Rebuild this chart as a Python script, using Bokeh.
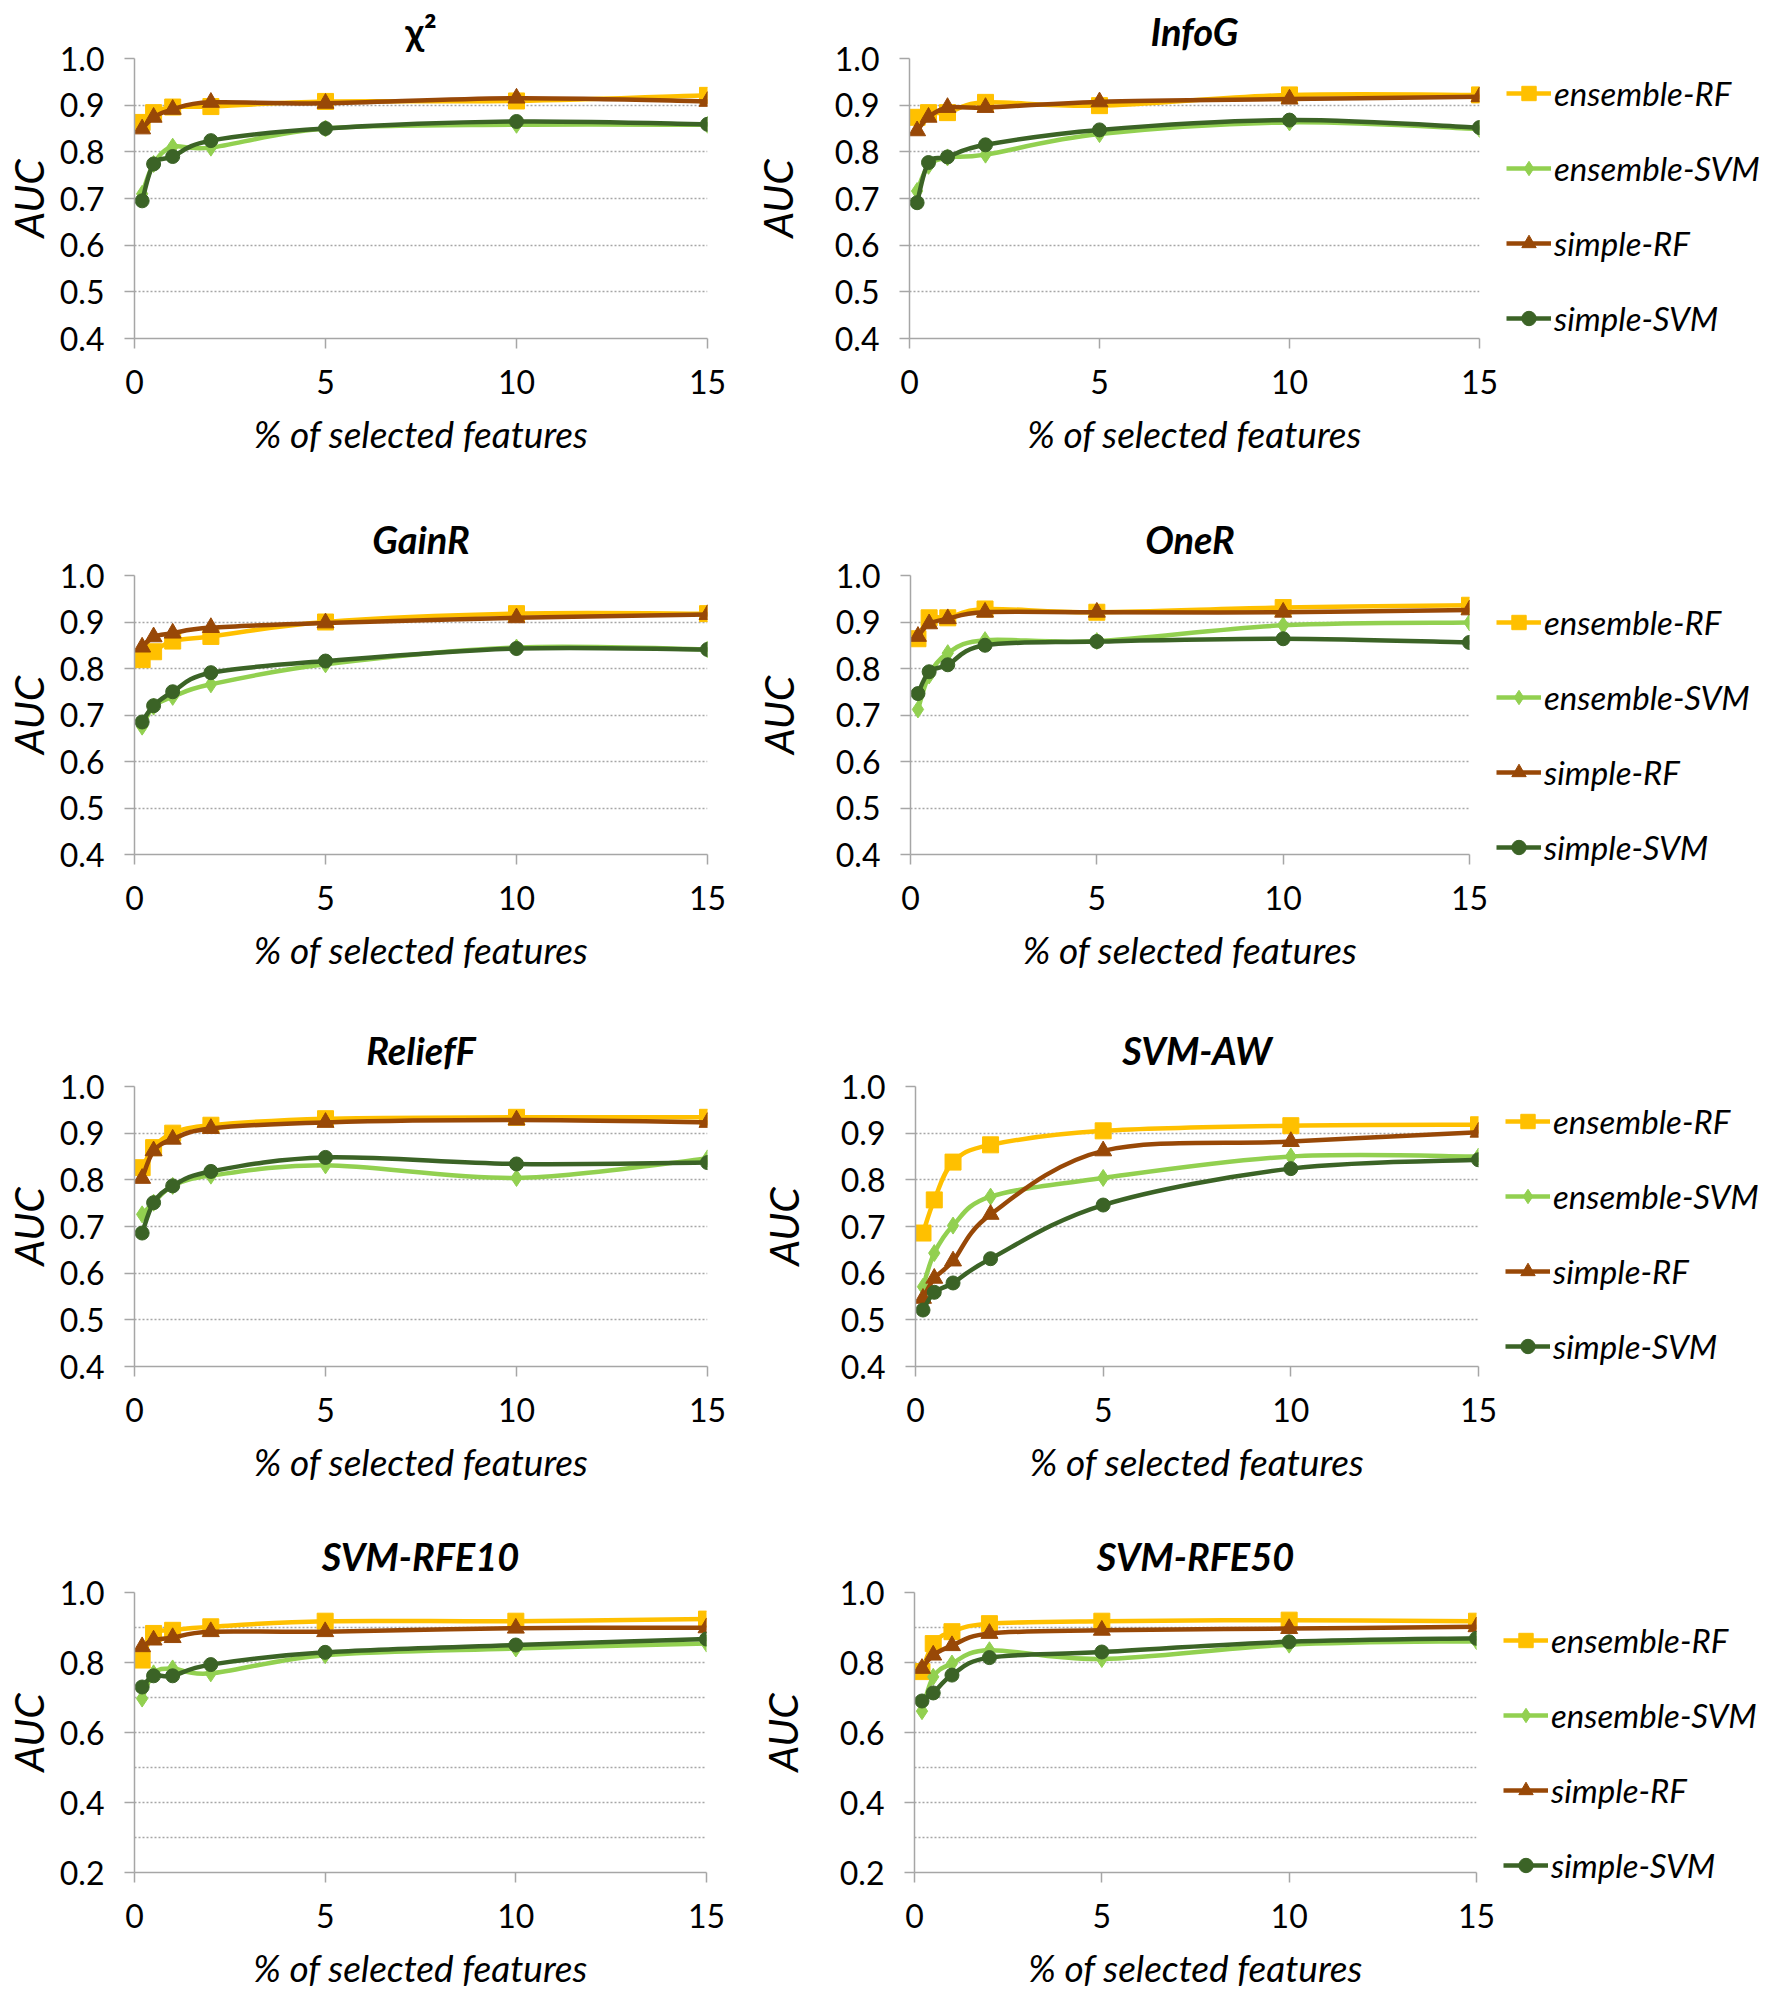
from bokeh.plotting import figure
from bokeh.models import ColumnDataSource, FixedTicker, NumeralTickFormatter, Legend, LegendItem
from bokeh.layouts import column, row
from bokeh.embed import file_html
from bokeh.resources import INLINE

# ---------------- data ----------------
x_pct = [0.2, 0.5, 1, 2, 5, 10, 15]
series_names = ["ensemble-RF", "ensemble-SVM", "simple-RF", "simple-SVM"]
x_ticks = [0, 5, 10, 15]
y_ticks_a = [0.4, 0.5, 0.6, 0.7, 0.8, 0.9, 1.0]
y_ticks_b = [0.2, 0.4, 0.6, 0.8, 1.0]
y_grid_b = [0.2, 0.3, 0.4, 0.5, 0.6, 0.7, 0.8, 0.9, 1.0]

chi2_eRF = [0.863, 0.884, 0.896, 0.897, 0.908, 0.909, 0.921]
chi2_eSVM = [0.710, 0.774, 0.811, 0.809, 0.850, 0.858, 0.858]
chi2_sRF = [0.849, 0.874, 0.891, 0.906, 0.904, 0.915, 0.908]
chi2_sSVM = [0.695, 0.774, 0.790, 0.824, 0.850, 0.865, 0.859]

infog_eRF = [0.874, 0.884, 0.884, 0.906, 0.899, 0.922, 0.922]
infog_eSVM = [0.716, 0.770, 0.788, 0.794, 0.838, 0.863, 0.849]
infog_sRF = [0.845, 0.874, 0.895, 0.895, 0.907, 0.913, 0.918]
infog_sSVM = [0.691, 0.777, 0.789, 0.815, 0.847, 0.868, 0.852]

gainr_eRF = [0.819, 0.836, 0.859, 0.869, 0.900, 0.918, 0.918]
gainr_eSVM = [0.675, 0.718, 0.739, 0.766, 0.809, 0.845, 0.841]
gainr_sRF = [0.846, 0.868, 0.876, 0.888, 0.898, 0.909, 0.916]
gainr_sSVM = [0.685, 0.720, 0.750, 0.791, 0.816, 0.843, 0.841]

oner_eRF = [0.864, 0.909, 0.909, 0.928, 0.921, 0.931, 0.936]
oner_eSVM = [0.712, 0.785, 0.833, 0.861, 0.859, 0.893, 0.899]
oner_sRF = [0.869, 0.896, 0.907, 0.921, 0.921, 0.921, 0.926]
oner_sSVM = [0.746, 0.793, 0.808, 0.850, 0.858, 0.864, 0.856]

relief_eRF = [0.826, 0.869, 0.900, 0.917, 0.931, 0.934, 0.934]
relief_eSVM = [0.726, 0.751, 0.787, 0.809, 0.831, 0.804, 0.846]
relief_sRF = [0.803, 0.862, 0.887, 0.910, 0.923, 0.928, 0.923]
relief_sSVM = [0.686, 0.751, 0.787, 0.818, 0.848, 0.834, 0.837]

svmaw_eRF = [0.686, 0.757, 0.838, 0.875, 0.905, 0.916, 0.918]
svmaw_eSVM = [0.571, 0.643, 0.702, 0.764, 0.804, 0.850, 0.850]
svmaw_sRF = [0.546, 0.589, 0.626, 0.726, 0.862, 0.882, 0.902]
svmaw_sSVM = [0.521, 0.559, 0.579, 0.631, 0.746, 0.824, 0.843]

rfe10_eRF = [0.807, 0.883, 0.892, 0.902, 0.918, 0.918, 0.924]
rfe10_eSVM = [0.697, 0.769, 0.783, 0.769, 0.821, 0.840, 0.854]
rfe10_sRF = [0.845, 0.864, 0.871, 0.888, 0.888, 0.898, 0.899]
rfe10_sSVM = [0.730, 0.762, 0.762, 0.794, 0.829, 0.850, 0.867]

rfe50_eRF = [0.774, 0.854, 0.888, 0.911, 0.918, 0.921, 0.918]
rfe50_eSVM = [0.661, 0.759, 0.797, 0.835, 0.810, 0.851, 0.861]
rfe50_sRF = [0.783, 0.821, 0.848, 0.883, 0.892, 0.897, 0.902]
rfe50_sSVM = [0.690, 0.713, 0.764, 0.814, 0.830, 0.859, 0.869]

panel_titles = ["χ²", "InfoG", "GainR", "OneR", "ReliefF", "SVM-AW", "SVM-RFE10", "SVM-RFE50"]
panel_series = [
    [chi2_eRF, chi2_eSVM, chi2_sRF, chi2_sSVM],
    [infog_eRF, infog_eSVM, infog_sRF, infog_sSVM],
    [gainr_eRF, gainr_eSVM, gainr_sRF, gainr_sSVM],
    [oner_eRF, oner_eSVM, oner_sRF, oner_sSVM],
    [relief_eRF, relief_eSVM, relief_sRF, relief_sSVM],
    [svmaw_eRF, svmaw_eSVM, svmaw_sRF, svmaw_sSVM],
    [rfe10_eRF, rfe10_eSVM, rfe10_sRF, rfe10_sSVM],
    [rfe50_eRF, rfe50_eSVM, rfe50_sRF, rfe50_sSVM],
]

# ---------------- style ----------------
FONT = "Lato"
COLORS = ["#FFC000", "#92D050", "#984807", "#3B6326"]
MARKERS = ["square", "diamond", "triangle", "circle"]
MSIZES = [16, 17, 17, 14]
GRAY = "#A6A6A6"

# frame geometry per panel (page pixels): left, right, top, bottom
ROWS = [(8, 490), (490, 1005), (1005, 1505), (1505, 1989)]
FRAMES = [
    (132, 705, 58, 338), (907, 1477, 58, 338),
    (134, 707, 575, 854), (910, 1469, 575, 854),
    (137, 710, 1086, 1366), (918, 1481, 1086, 1366),
    (136, 708, 1592, 1872), (916, 1478, 1592, 1872),
]
TITLE_STANDOFF = [10, 10, 28, 28, 28, 28, 28, 28]
COL_X = [(8, 742), (742, 1766)]
LEG_Y = [0, -13, 0, -13]


def smooth_segments(xs, ys, t=1.0 / 6.0):
    n = len(xs)
    d = dict(x0=[], y0=[], x1=[], y1=[], cx0=[], cy0=[], cx1=[], cy1=[])
    for i in range(n - 1):
        a = max(i - 1, 0)
        b = min(i + 2, n - 1)
        d["x0"].append(xs[i]); d["y0"].append(ys[i])
        d["x1"].append(xs[i + 1]); d["y1"].append(ys[i + 1])
        d["cx0"].append(xs[i] + (xs[i + 1] - xs[a]) * t)
        d["cy0"].append(ys[i] + (ys[i + 1] - ys[a]) * t)
        d["cx1"].append(xs[i + 1] - (xs[b] - xs[i]) * t)
        d["cy1"].append(ys[i + 1] - (ys[b] - ys[i]) * t)
    return d


def make_panel(k):
    col = k % 2
    r = k // 2
    fl, fr, ft, fb = FRAMES[k]
    cx0, cx1 = COL_X[col]
    ry0, ry1 = ROWS[r]
    low = 0.2 if r == 3 else 0.4
    p = figure(
        frame_width=fr - fl, frame_height=fb - ft,
        x_range=(0, 15), y_range=(low, 1.0),
        output_backend="svg", toolbar_location=None,
        min_border_left=fl - cx0, min_border_right=cx1 - fr,
        min_border_top=ft - ry0, min_border_bottom=ry1 - fb,
        background_fill_color="white", border_fill_color="white",
    )
    p.outline_line_color = None
    p.title.text = panel_titles[k]
    p.title.align = "center"
    p.title.text_font = FONT
    p.title.text_font_size = "38px"
    p.title.text_font_style = "bold" if k == 0 else "bold italic"
    p.title.text_color = "black"
    p.title.standoff = TITLE_STANDOFF[k]

    p.xgrid.visible = False
    p.ygrid.ticker = FixedTicker(ticks=y_grid_b if r == 3 else y_ticks_a)
    p.ygrid.grid_line_color = GRAY
    p.ygrid.grid_line_dash = "2 2"
    p.ygrid.grid_line_width = 1.5

    for ax in (p.xaxis[0], p.yaxis[0]):
        ax.axis_line_color = GRAY
        ax.axis_line_width = 1.5
        ax.major_tick_line_color = GRAY
        ax.major_tick_line_width = 1.5
        ax.minor_tick_line_color = None
        ax.major_tick_out = 10
        ax.major_tick_in = 0
        ax.major_label_text_font = FONT
        ax.major_label_text_font_size = "32px"
        ax.major_label_text_color = "black"
        ax.axis_label_text_font = FONT
        ax.axis_label_text_font_style = "italic"
        ax.axis_label_text_color = "black"

    p.xaxis.ticker = FixedTicker(ticks=x_ticks)
    p.xaxis.major_label_standoff = 21
    p.xaxis.axis_label = "% of selected features"
    p.xaxis.axis_label_text_font_size = "37px"
    p.xaxis.axis_label_standoff = 14

    p.yaxis.ticker = FixedTicker(ticks=y_ticks_b if r == 3 else y_ticks_a)
    p.yaxis.formatter = NumeralTickFormatter(format="0.0")
    p.yaxis.major_label_standoff = 20
    p.yaxis.axis_label = "AUC"
    p.yaxis.axis_label_text_font_size = "41px"
    p.yaxis.axis_label_standoff = 4 if col == 0 else 30

    items = []
    for s, ys in enumerate(panel_series[k]):
        src = ColumnDataSource(smooth_segments(x_pct, ys))
        bz = p.bezier(x0="x0", y0="y0", x1="x1", y1="y1", cx0="cx0", cy0="cy0",
                      cx1="cx1", cy1="cy1", source=src,
                      line_color=COLORS[s], line_width=4.5)
        sc = p.scatter(x=x_pct, y=ys, marker=MARKERS[s], size=MSIZES[s],
                       fill_color=COLORS[s], line_color=COLORS[s])
        items.append(LegendItem(label=series_names[s], renderers=[bz, sc]))

    if col == 1:
        leg = Legend(items=items, location=(27, LEG_Y[r]))
        leg.border_line_color = None
        leg.background_fill_alpha = 0
        leg.padding = 0
        leg.margin = 0
        leg.spacing = 35
        leg.glyph_width = 45
        leg.glyph_height = 36
        leg.label_height = 36
        leg.label_standoff = 3
        leg.label_text_font = FONT
        leg.label_text_font_style = "italic"
        leg.label_text_font_size = "33px"
        leg.label_text_color = "black"
        p.add_layout(leg, "right")
    return p


figs = [make_panel(k) for k in range(8)]
layout = column(
    row(figs[0], figs[1]),
    row(figs[2], figs[3]),
    row(figs[4], figs[5]),
    row(figs[6], figs[7]),
)

open("out.html", "w").write(file_html(layout, INLINE))
